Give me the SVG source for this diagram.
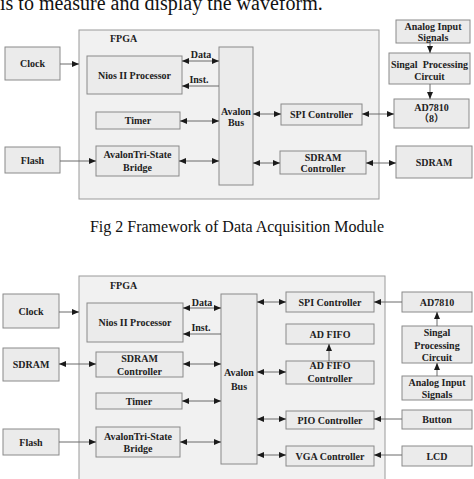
<svg xmlns="http://www.w3.org/2000/svg" width="474" height="479" viewBox="0 0 474 479">
<defs>
<marker id="ah" viewBox="0 0 7 6" refX="7" refY="3" markerWidth="7" markerHeight="6" markerUnits="userSpaceOnUse" orient="auto-start-reverse">
<path d="M0,0 L7,3 L0,6 z" fill="#1a1a1a"/>
</marker>
<style>
.fpga{fill:#f1f1f1;stroke:#9a9a9a;stroke-width:1}
.box{fill:#ebebeb;stroke:#8a8a8a;stroke-width:1}
.t{font-family:"Liberation Serif","Times New Roman",serif;font-weight:bold;font-size:10px;fill:#222;text-anchor:middle;white-space:pre}
.tl{font-family:"Liberation Serif","Times New Roman",serif;font-weight:bold;font-size:10px;fill:#222;white-space:pre}
.c{stroke:#6a6a6a;stroke-width:1;fill:none}
.one{marker-end:url(#ah)}
.two{marker-start:url(#ah);marker-end:url(#ah)}
.cap{font-family:"Liberation Serif","Times New Roman",serif;fill:#111}
</style>
</defs>
<rect width="474" height="479" fill="#fff"/>
<text class="cap" x="0" y="10" font-size="20">is to measure and display the waveform.</text>

<!-- Figure 2 -->
<g id="fig2">
<g id="fpga1"><rect class="fpga" x="79" y="30" width="300" height="169"/><text class="tl" x="110" y="41.5">FPGA</text></g>
<g id="clock1"><rect class="box" x="5" y="47" width="55" height="33"/><text class="t" x="32.5" y="67">Clock</text></g>
<g id="nios1"><rect class="box" x="87" y="56" width="95" height="38"/><text class="t" x="134.5" y="78.5">Nios II Processor</text></g>
<g id="timer1"><rect class="box" x="96" y="112" width="84" height="17"/><text class="t" x="138" y="124">Timer</text></g>
<g id="bridge1"><rect class="box" x="96" y="146" width="83" height="30"/><text class="t" x="137.5" y="157.5">AvalonTri-State</text><text class="t" x="137.5" y="170.5">Bridge</text></g>
<g id="flash1"><rect class="box" x="5" y="147" width="55" height="26"/><text class="t" x="32.5" y="163.5">Flash</text></g>
<g id="bus1"><rect class="box" x="219" y="47" width="34" height="138"/><text class="t" x="236" y="114.5">Avalon</text><text class="t" x="236" y="125.5">Bus</text></g>
<g id="spi1"><rect class="box" x="281" y="104" width="81" height="21"/><text class="t" x="321.5" y="118">SPI Controller</text></g>
<g id="sdramc1"><rect class="box" x="280" y="151" width="86" height="23"/><text class="t" x="323" y="160.5">SDRAM</text><text class="t" x="323" y="171.5">Controller</text></g>
<g id="analog1"><rect class="box" x="396" y="20" width="74" height="23"/><text class="t" x="433" y="29.5">Analog Input</text><text class="t" x="433" y="40.5">Signals</text></g>
<g id="spc1"><rect class="box" x="389" y="53" width="81" height="31"/><text class="t" x="429.5" y="67.5">Singal  Processing</text><text class="t" x="429.5" y="79.5">Circuit</text></g>
<g id="ad1"><rect class="box" x="394" y="99" width="75" height="29"/><text class="t" x="431.5" y="110.5">AD7810</text><text class="t" x="431.5" y="122" style="font-family:'Liberation Serif','Noto Sans CJK SC',serif">（8）</text></g>
<g id="sdram1"><rect class="box" x="396" y="146" width="76" height="32"/><text class="t" x="434" y="165.5">SDRAM</text></g>
<g id="conn1">
<line class="c one" x1="60" y1="64" x2="79" y2="64"/>
<line class="c two" x1="182" y1="61" x2="219" y2="61"/>
<line class="c one" x1="219" y1="86" x2="182" y2="86"/>
<line class="c two" x1="180" y1="121" x2="219" y2="121"/>
<line class="c two" x1="179" y1="161" x2="219" y2="161"/>
<line class="c one" x1="60" y1="161" x2="96" y2="161"/>
<line class="c two" x1="253" y1="114" x2="281" y2="114"/>
<line class="c two" x1="362" y1="114" x2="394" y2="114"/>
<line class="c two" x1="253" y1="163" x2="280" y2="163"/>
<line class="c two" x1="366" y1="163" x2="396" y2="163"/>
<line class="c one" x1="430" y1="43" x2="430" y2="53"/>
<line class="c one" x1="430" y1="84" x2="430" y2="99"/>
<text class="t" x="201" y="58">Data</text>
<text class="t" x="199" y="83">Inst.</text>
</g>
</g>
<text class="cap" x="237" y="232" font-size="16" text-anchor="middle">Fig 2 Framework of Data Acquisition Module</text>

<!-- Figure 3 -->
<g id="fig3">
<g id="fpga2"><rect class="fpga" x="79" y="276" width="306" height="210"/><text class="tl" x="110" y="288.5">FPGA</text></g>
<g id="clock2"><rect class="box" x="3" y="294" width="56" height="34"/><text class="t" x="31" y="314.5">Clock</text></g>
<g id="nios2"><rect class="box" x="87" y="303" width="96" height="39"/><text class="t" x="135" y="325.5">Nios II Processor</text></g>
<g id="sdram2"><rect class="box" x="3" y="348" width="56" height="33"/><text class="t" x="31" y="368">SDRAM</text></g>
<g id="sdramc2"><rect class="box" x="96" y="352" width="87" height="25"/><text class="t" x="139.5" y="361.5">SDRAM</text><text class="t" x="139.5" y="374.5">Controller</text></g>
<g id="timer2"><rect class="box" x="96" y="393" width="86" height="16"/><text class="t" x="139" y="404.5">Timer</text></g>
<g id="bridge2"><rect class="box" x="96" y="427" width="84" height="30"/><text class="t" x="138" y="439.5">AvalonTri-State</text><text class="t" x="138" y="451.5">Bridge</text></g>
<g id="flash2"><rect class="box" x="3" y="429" width="56" height="26"/><text class="t" x="31" y="445.5">Flash</text></g>
<g id="bus2"><rect class="box" x="221" y="294" width="36" height="170"/><text class="t" x="239" y="375.5">Avalon</text><text class="t" x="239" y="390">Bus</text></g>
<g id="spi2"><rect class="box" x="286" y="292" width="88" height="20"/><text class="t" x="330" y="305.5">SPI Controller</text></g>
<g id="fifo2"><rect class="box" x="286" y="324" width="88" height="20"/><text class="t" x="330" y="337.5">AD FIFO</text></g>
<g id="fifoc2"><rect class="box" x="286" y="361" width="88" height="23"/><text class="t" x="330" y="368.5">AD FIFO</text><text class="t" x="330" y="381.5">Controller</text></g>
<g id="pio2"><rect class="box" x="286" y="411" width="88" height="18"/><text class="t" x="330" y="423.5">PIO Controller</text></g>
<g id="vga2"><rect class="box" x="286" y="446" width="88" height="20"/><text class="t" x="330" y="459.5">VGA Controller</text></g>
<g id="ad2"><rect class="box" x="402" y="292" width="70" height="20"/><text class="t" x="437" y="305.5">AD7810</text></g>
<g id="spc2"><rect class="box" x="402" y="326" width="70" height="37"/><text class="t" x="437" y="335.5">Singal</text><text class="t" x="437" y="348.5">Processing</text><text class="t" x="437" y="360.5">Circuit</text></g>
<g id="analog2"><rect class="box" x="402" y="376" width="70" height="24"/><text class="t" x="437" y="385.5">Analog Input</text><text class="t" x="437" y="398">Signals</text></g>
<g id="button2"><rect class="box" x="402" y="410" width="70" height="19"/><text class="t" x="437" y="423">Button</text></g>
<g id="lcd2"><rect class="box" x="402" y="446" width="70" height="20"/><text class="t" x="437" y="459.5">LCD</text></g>
<g id="conn2">
<line class="c one" x1="59" y1="312" x2="79" y2="312"/>
<line class="c two" x1="183" y1="308" x2="221" y2="308"/>
<line class="c one" x1="221" y1="334" x2="183" y2="334"/>
<line class="c two" x1="59" y1="364" x2="96" y2="364"/>
<line class="c two" x1="183" y1="364" x2="221" y2="364"/>
<line class="c two" x1="182" y1="401" x2="221" y2="401"/>
<line class="c two" x1="180" y1="442" x2="221" y2="442"/>
<line class="c one" x1="59" y1="442" x2="96" y2="442"/>
<line class="c two" x1="257" y1="302" x2="286" y2="302"/>
<line class="c one" x1="402" y1="302" x2="374" y2="302"/>
<line class="c one" x1="329" y1="361" x2="329" y2="344"/>
<line class="c two" x1="257" y1="372" x2="286" y2="372"/>
<line class="c one" x1="437" y1="326" x2="437" y2="312"/>
<line class="c one" x1="437" y1="376" x2="437" y2="363"/>
<line class="c two" x1="257" y1="419" x2="286" y2="419"/>
<line class="c one" x1="402" y1="419" x2="374" y2="419"/>
<line class="c two" x1="257" y1="455" x2="286" y2="455"/>
<line class="c one" x1="402" y1="455" x2="374" y2="455"/>
<text class="t" x="202" y="306">Data</text>
<text class="t" x="201" y="331">Inst.</text>
</g>
</g>
</svg>
